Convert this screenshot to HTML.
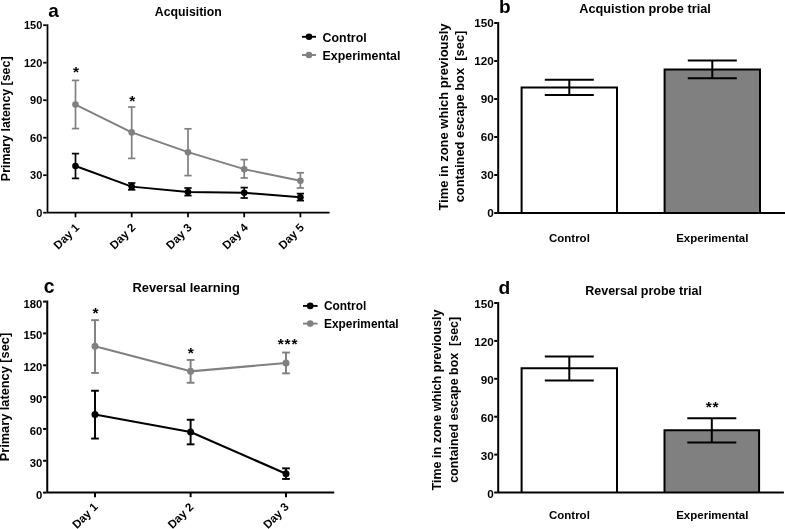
<!DOCTYPE html>
<html lang="en">
<head>
<meta charset="utf-8">
<title>Figure</title>
<style>
html,body{margin:0;padding:0;background:#fff;}
body{width:785px;height:529px;overflow:hidden;}
svg{display:block;}
svg text{font-family:"Liberation Sans", Arial, Helvetica, sans-serif;fill:#000;}
</style>
</head>
<body>
<svg width="785" height="529" viewBox="0 0 785 529">
<rect x="0" y="0" width="785" height="529" fill="#fff"/>
<text x="48.30" y="16.50" font-size="19" font-weight="bold" text-anchor="start">a</text>
<text x="188.30" y="16.30" font-size="12.3" font-weight="bold" text-anchor="middle">Acquisition</text>
<path d="M47.50 24.32V212.70H329.60" fill="none" stroke="#000" stroke-width="1.75" stroke-linejoin="miter"/>
<line x1="43.20" y1="212.70" x2="46.62" y2="212.70" stroke="#000" stroke-width="1.75" stroke-linecap="butt"/>
<text x="42.34" y="216.84" font-size="11" font-weight="bold" text-anchor="end">0</text>
<line x1="43.20" y1="175.20" x2="46.62" y2="175.20" stroke="#000" stroke-width="1.75" stroke-linecap="butt"/>
<text x="42.34" y="179.34" font-size="11" font-weight="bold" text-anchor="end">30</text>
<line x1="43.20" y1="137.70" x2="46.62" y2="137.70" stroke="#000" stroke-width="1.75" stroke-linecap="butt"/>
<text x="42.34" y="141.84" font-size="11" font-weight="bold" text-anchor="end">60</text>
<line x1="43.20" y1="100.20" x2="46.62" y2="100.20" stroke="#000" stroke-width="1.75" stroke-linecap="butt"/>
<text x="42.34" y="104.34" font-size="11" font-weight="bold" text-anchor="end">90</text>
<line x1="43.20" y1="62.70" x2="46.62" y2="62.70" stroke="#000" stroke-width="1.75" stroke-linecap="butt"/>
<text x="42.34" y="66.84" font-size="11" font-weight="bold" text-anchor="end">120</text>
<line x1="43.20" y1="25.20" x2="46.62" y2="25.20" stroke="#000" stroke-width="1.75" stroke-linecap="butt"/>
<text x="42.34" y="29.34" font-size="11" font-weight="bold" text-anchor="end">150</text>
<line x1="75.50" y1="212.70" x2="75.50" y2="217.30" stroke="#000" stroke-width="1.75" stroke-linecap="butt"/>
<text x="80.00" y="228.20" font-size="11.5" font-weight="bold" text-anchor="end" transform="rotate(-45 80.00 228.20)">Day 1</text>
<line x1="131.70" y1="212.70" x2="131.70" y2="217.30" stroke="#000" stroke-width="1.75" stroke-linecap="butt"/>
<text x="136.20" y="228.20" font-size="11.5" font-weight="bold" text-anchor="end" transform="rotate(-45 136.20 228.20)">Day 2</text>
<line x1="188.00" y1="212.70" x2="188.00" y2="217.30" stroke="#000" stroke-width="1.75" stroke-linecap="butt"/>
<text x="192.50" y="228.20" font-size="11.5" font-weight="bold" text-anchor="end" transform="rotate(-45 192.50 228.20)">Day 3</text>
<line x1="244.20" y1="212.70" x2="244.20" y2="217.30" stroke="#000" stroke-width="1.75" stroke-linecap="butt"/>
<text x="248.70" y="228.20" font-size="11.5" font-weight="bold" text-anchor="end" transform="rotate(-45 248.70 228.20)">Day 4</text>
<line x1="300.40" y1="212.70" x2="300.40" y2="217.30" stroke="#000" stroke-width="1.75" stroke-linecap="butt"/>
<text x="304.90" y="228.20" font-size="11.5" font-weight="bold" text-anchor="end" transform="rotate(-45 304.90 228.20)">Day 5</text>
<text x="9.85" y="118.80" font-size="12.4" font-weight="bold" text-anchor="middle" transform="rotate(-90 9.85 118.80)">Primary latency [sec]</text>
<polyline points="75.50,104.60 131.70,132.40 188.00,152.20 244.20,169.20 300.40,180.80" fill="none" stroke="#808080" stroke-width="1.9" stroke-linejoin="round"/>
<line x1="75.50" y1="80.40" x2="75.50" y2="128.60" stroke="#808080" stroke-width="1.7" stroke-linecap="butt"/>
<line x1="71.85" y1="80.40" x2="79.15" y2="80.40" stroke="#808080" stroke-width="1.7" stroke-linecap="butt"/>
<line x1="71.85" y1="128.60" x2="79.15" y2="128.60" stroke="#808080" stroke-width="1.7" stroke-linecap="butt"/>
<circle cx="75.50" cy="104.60" r="3.3" fill="#808080"/>
<line x1="131.70" y1="107.00" x2="131.70" y2="158.40" stroke="#808080" stroke-width="1.7" stroke-linecap="butt"/>
<line x1="128.05" y1="107.00" x2="135.35" y2="107.00" stroke="#808080" stroke-width="1.7" stroke-linecap="butt"/>
<line x1="128.05" y1="158.40" x2="135.35" y2="158.40" stroke="#808080" stroke-width="1.7" stroke-linecap="butt"/>
<circle cx="131.70" cy="132.40" r="3.3" fill="#808080"/>
<line x1="188.00" y1="128.80" x2="188.00" y2="175.60" stroke="#808080" stroke-width="1.7" stroke-linecap="butt"/>
<line x1="184.35" y1="128.80" x2="191.65" y2="128.80" stroke="#808080" stroke-width="1.7" stroke-linecap="butt"/>
<line x1="184.35" y1="175.60" x2="191.65" y2="175.60" stroke="#808080" stroke-width="1.7" stroke-linecap="butt"/>
<circle cx="188.00" cy="152.20" r="3.3" fill="#808080"/>
<line x1="244.20" y1="159.60" x2="244.20" y2="178.00" stroke="#808080" stroke-width="1.7" stroke-linecap="butt"/>
<line x1="240.55" y1="159.60" x2="247.85" y2="159.60" stroke="#808080" stroke-width="1.7" stroke-linecap="butt"/>
<line x1="240.55" y1="178.00" x2="247.85" y2="178.00" stroke="#808080" stroke-width="1.7" stroke-linecap="butt"/>
<circle cx="244.20" cy="169.20" r="3.3" fill="#808080"/>
<line x1="300.40" y1="172.80" x2="300.40" y2="188.00" stroke="#808080" stroke-width="1.7" stroke-linecap="butt"/>
<line x1="296.75" y1="172.80" x2="304.05" y2="172.80" stroke="#808080" stroke-width="1.7" stroke-linecap="butt"/>
<line x1="296.75" y1="188.00" x2="304.05" y2="188.00" stroke="#808080" stroke-width="1.7" stroke-linecap="butt"/>
<circle cx="300.40" cy="180.80" r="3.3" fill="#808080"/>
<polyline points="75.50,166.00 131.70,186.60 188.00,192.00 244.20,192.80 300.40,197.20" fill="none" stroke="#000" stroke-width="1.9" stroke-linejoin="round"/>
<line x1="75.50" y1="153.60" x2="75.50" y2="178.40" stroke="#000" stroke-width="1.7" stroke-linecap="butt"/>
<line x1="71.85" y1="153.60" x2="79.15" y2="153.60" stroke="#000" stroke-width="1.7" stroke-linecap="butt"/>
<line x1="71.85" y1="178.40" x2="79.15" y2="178.40" stroke="#000" stroke-width="1.7" stroke-linecap="butt"/>
<circle cx="75.50" cy="166.00" r="3.3" fill="#000"/>
<line x1="131.70" y1="183.00" x2="131.70" y2="189.80" stroke="#000" stroke-width="1.7" stroke-linecap="butt"/>
<line x1="128.05" y1="183.00" x2="135.35" y2="183.00" stroke="#000" stroke-width="1.7" stroke-linecap="butt"/>
<line x1="128.05" y1="189.80" x2="135.35" y2="189.80" stroke="#000" stroke-width="1.7" stroke-linecap="butt"/>
<circle cx="131.70" cy="186.60" r="3.3" fill="#000"/>
<line x1="188.00" y1="188.00" x2="188.00" y2="195.60" stroke="#000" stroke-width="1.7" stroke-linecap="butt"/>
<line x1="184.35" y1="188.00" x2="191.65" y2="188.00" stroke="#000" stroke-width="1.7" stroke-linecap="butt"/>
<line x1="184.35" y1="195.60" x2="191.65" y2="195.60" stroke="#000" stroke-width="1.7" stroke-linecap="butt"/>
<circle cx="188.00" cy="192.00" r="3.3" fill="#000"/>
<line x1="244.20" y1="187.60" x2="244.20" y2="198.00" stroke="#000" stroke-width="1.7" stroke-linecap="butt"/>
<line x1="240.55" y1="187.60" x2="247.85" y2="187.60" stroke="#000" stroke-width="1.7" stroke-linecap="butt"/>
<line x1="240.55" y1="198.00" x2="247.85" y2="198.00" stroke="#000" stroke-width="1.7" stroke-linecap="butt"/>
<circle cx="244.20" cy="192.80" r="3.3" fill="#000"/>
<line x1="300.40" y1="193.60" x2="300.40" y2="200.60" stroke="#000" stroke-width="1.7" stroke-linecap="butt"/>
<line x1="296.75" y1="193.60" x2="304.05" y2="193.60" stroke="#000" stroke-width="1.7" stroke-linecap="butt"/>
<line x1="296.75" y1="200.60" x2="304.05" y2="200.60" stroke="#000" stroke-width="1.7" stroke-linecap="butt"/>
<circle cx="300.40" cy="197.20" r="3.3" fill="#000"/>
<text x="72.99" y="77.35" font-size="15.5" font-weight="bold" letter-spacing="0.92">*</text>
<text x="129.19" y="105.95" font-size="15.5" font-weight="bold" letter-spacing="0.92">*</text>
<line x1="302.00" y1="36.80" x2="316.00" y2="36.80" stroke="#000" stroke-width="1.9" stroke-linecap="butt"/>
<circle cx="309.00" cy="36.80" r="3.3" fill="#000"/>
<text x="322.60" y="41.74" font-size="12.4" font-weight="bold" text-anchor="start">Control</text>
<line x1="302.00" y1="55.00" x2="316.00" y2="55.00" stroke="#808080" stroke-width="1.9" stroke-linecap="butt"/>
<circle cx="309.00" cy="55.00" r="3.3" fill="#808080"/>
<text x="322.60" y="59.84" font-size="12.4" font-weight="bold" text-anchor="start">Experimental</text>
<text x="43.80" y="293.05" font-size="19.3" font-weight="bold" text-anchor="start">c</text>
<text x="186.15" y="291.50" font-size="12.88" font-weight="bold" text-anchor="middle">Reversal learning</text>
<path d="M47.25 300.60V492.60H334.20" fill="none" stroke="#000" stroke-width="2.0" stroke-linejoin="miter"/>
<line x1="43.10" y1="492.60" x2="46.25" y2="492.60" stroke="#000" stroke-width="2.0" stroke-linecap="butt"/>
<text x="42.25" y="498.50" font-size="11.3" font-weight="bold" text-anchor="end">0</text>
<line x1="43.10" y1="460.77" x2="46.25" y2="460.77" stroke="#000" stroke-width="2.0" stroke-linecap="butt"/>
<text x="42.25" y="466.66" font-size="11.3" font-weight="bold" text-anchor="end">30</text>
<line x1="43.10" y1="428.93" x2="46.25" y2="428.93" stroke="#000" stroke-width="2.0" stroke-linecap="butt"/>
<text x="42.25" y="434.83" font-size="11.3" font-weight="bold" text-anchor="end">60</text>
<line x1="43.10" y1="397.10" x2="46.25" y2="397.10" stroke="#000" stroke-width="2.0" stroke-linecap="butt"/>
<text x="42.25" y="403.00" font-size="11.3" font-weight="bold" text-anchor="end">90</text>
<line x1="43.10" y1="365.27" x2="46.25" y2="365.27" stroke="#000" stroke-width="2.0" stroke-linecap="butt"/>
<text x="42.25" y="371.16" font-size="11.3" font-weight="bold" text-anchor="end">120</text>
<line x1="43.10" y1="333.43" x2="46.25" y2="333.43" stroke="#000" stroke-width="2.0" stroke-linecap="butt"/>
<text x="42.25" y="339.33" font-size="11.3" font-weight="bold" text-anchor="end">150</text>
<line x1="43.10" y1="301.60" x2="46.25" y2="301.60" stroke="#000" stroke-width="2.0" stroke-linecap="butt"/>
<text x="42.25" y="307.50" font-size="11.3" font-weight="bold" text-anchor="end">180</text>
<line x1="95.00" y1="492.60" x2="95.00" y2="497.20" stroke="#000" stroke-width="2.0" stroke-linecap="butt"/>
<text x="98.60" y="507.60" font-size="11.5" font-weight="bold" text-anchor="end" transform="rotate(-45 98.60 507.60)">Day 1</text>
<line x1="190.60" y1="492.60" x2="190.60" y2="497.20" stroke="#000" stroke-width="2.0" stroke-linecap="butt"/>
<text x="194.20" y="507.60" font-size="11.5" font-weight="bold" text-anchor="end" transform="rotate(-45 194.20 507.60)">Day 2</text>
<line x1="286.00" y1="492.60" x2="286.00" y2="497.20" stroke="#000" stroke-width="2.0" stroke-linecap="butt"/>
<text x="289.60" y="507.60" font-size="11.5" font-weight="bold" text-anchor="end" transform="rotate(-45 289.60 507.60)">Day 3</text>
<text x="9.30" y="397.10" font-size="12.77" font-weight="bold" text-anchor="middle" transform="rotate(-90 9.30 397.10)">Primary latency [sec]</text>
<polyline points="95.00,346.35 190.60,371.35 286.00,362.95" fill="none" stroke="#808080" stroke-width="2.1" stroke-linejoin="round"/>
<line x1="95.00" y1="320.15" x2="95.00" y2="372.95" stroke="#808080" stroke-width="1.95" stroke-linecap="butt"/>
<line x1="91.15" y1="320.15" x2="98.85" y2="320.15" stroke="#808080" stroke-width="1.95" stroke-linecap="butt"/>
<line x1="91.15" y1="372.95" x2="98.85" y2="372.95" stroke="#808080" stroke-width="1.95" stroke-linecap="butt"/>
<circle cx="95.00" cy="346.35" r="3.5" fill="#808080"/>
<line x1="190.60" y1="359.95" x2="190.60" y2="382.75" stroke="#808080" stroke-width="1.95" stroke-linecap="butt"/>
<line x1="186.75" y1="359.95" x2="194.45" y2="359.95" stroke="#808080" stroke-width="1.95" stroke-linecap="butt"/>
<line x1="186.75" y1="382.75" x2="194.45" y2="382.75" stroke="#808080" stroke-width="1.95" stroke-linecap="butt"/>
<circle cx="190.60" cy="371.35" r="3.5" fill="#808080"/>
<line x1="286.00" y1="352.55" x2="286.00" y2="373.35" stroke="#808080" stroke-width="1.95" stroke-linecap="butt"/>
<line x1="282.15" y1="352.55" x2="289.85" y2="352.55" stroke="#808080" stroke-width="1.95" stroke-linecap="butt"/>
<line x1="282.15" y1="373.35" x2="289.85" y2="373.35" stroke="#808080" stroke-width="1.95" stroke-linecap="butt"/>
<circle cx="286.00" cy="362.95" r="3.5" fill="#808080"/>
<polyline points="95.00,414.55 190.60,431.95 286.00,473.75" fill="none" stroke="#000" stroke-width="2.1" stroke-linejoin="round"/>
<line x1="95.00" y1="390.75" x2="95.00" y2="438.55" stroke="#000" stroke-width="1.95" stroke-linecap="butt"/>
<line x1="91.15" y1="390.75" x2="98.85" y2="390.75" stroke="#000" stroke-width="1.95" stroke-linecap="butt"/>
<line x1="91.15" y1="438.55" x2="98.85" y2="438.55" stroke="#000" stroke-width="1.95" stroke-linecap="butt"/>
<circle cx="95.00" cy="414.55" r="3.5" fill="#000"/>
<line x1="190.60" y1="419.75" x2="190.60" y2="444.35" stroke="#000" stroke-width="1.95" stroke-linecap="butt"/>
<line x1="186.75" y1="419.75" x2="194.45" y2="419.75" stroke="#000" stroke-width="1.95" stroke-linecap="butt"/>
<line x1="186.75" y1="444.35" x2="194.45" y2="444.35" stroke="#000" stroke-width="1.95" stroke-linecap="butt"/>
<circle cx="190.60" cy="431.95" r="3.5" fill="#000"/>
<line x1="286.00" y1="468.35" x2="286.00" y2="478.95" stroke="#000" stroke-width="1.95" stroke-linecap="butt"/>
<line x1="282.15" y1="468.35" x2="289.85" y2="468.35" stroke="#000" stroke-width="1.95" stroke-linecap="butt"/>
<line x1="282.15" y1="478.95" x2="289.85" y2="478.95" stroke="#000" stroke-width="1.95" stroke-linecap="butt"/>
<circle cx="286.00" cy="473.75" r="3.5" fill="#000"/>
<text x="92.49" y="318.05" font-size="15.5" font-weight="bold" letter-spacing="0.92">*</text>
<text x="187.79" y="358.05" font-size="15.5" font-weight="bold" letter-spacing="0.92">*</text>
<text x="277.79" y="348.95" font-size="15.5" font-weight="bold" letter-spacing="0.77">***</text>
<line x1="303.00" y1="305.90" x2="317.60" y2="305.90" stroke="#000" stroke-width="1.9" stroke-linecap="butt"/>
<circle cx="310.20" cy="305.90" r="3.3" fill="#000"/>
<text x="324.00" y="310.46" font-size="11.9" font-weight="bold" text-anchor="start">Control</text>
<line x1="303.00" y1="323.60" x2="317.60" y2="323.60" stroke="#808080" stroke-width="1.9" stroke-linecap="butt"/>
<circle cx="310.20" cy="323.60" r="3.3" fill="#808080"/>
<text x="324.00" y="327.76" font-size="11.9" font-weight="bold" text-anchor="start">Experimental</text>
<text x="499.10" y="13.45" font-size="19" font-weight="bold" text-anchor="start">b</text>
<text x="645.00" y="13.35" font-size="12.74" font-weight="bold" text-anchor="middle">Acquistion probe trial</text>
<path d="M521.60 213.00V87.50H617.00V213.00" fill="#fff" stroke="#000" stroke-width="2.0" stroke-linejoin="miter"/>
<line x1="569.30" y1="79.70" x2="569.30" y2="95.10" stroke="#000" stroke-width="2.0" stroke-linecap="butt"/>
<line x1="544.80" y1="79.70" x2="593.80" y2="79.70" stroke="#000" stroke-width="2.0" stroke-linecap="butt"/>
<line x1="544.80" y1="95.10" x2="593.80" y2="95.10" stroke="#000" stroke-width="2.0" stroke-linecap="butt"/>
<path d="M664.60 213.00V69.40H760.00V213.00" fill="#808080" stroke="#000" stroke-width="2.0" stroke-linejoin="miter"/>
<line x1="712.30" y1="60.60" x2="712.30" y2="78.20" stroke="#000" stroke-width="2.0" stroke-linecap="butt"/>
<line x1="687.80" y1="60.60" x2="736.80" y2="60.60" stroke="#000" stroke-width="2.0" stroke-linecap="butt"/>
<line x1="687.80" y1="78.20" x2="736.80" y2="78.20" stroke="#000" stroke-width="2.0" stroke-linecap="butt"/>
<path d="M498.20 22.00V213.00H786.00" fill="none" stroke="#000" stroke-width="2.0" stroke-linejoin="miter"/>
<line x1="494.20" y1="213.00" x2="497.20" y2="213.00" stroke="#000" stroke-width="2.0" stroke-linecap="butt"/>
<text x="493.67" y="217.19" font-size="11.7" font-weight="bold" text-anchor="end">0</text>
<line x1="494.20" y1="175.00" x2="497.20" y2="175.00" stroke="#000" stroke-width="2.0" stroke-linecap="butt"/>
<text x="493.67" y="179.19" font-size="11.7" font-weight="bold" text-anchor="end">30</text>
<line x1="494.20" y1="137.00" x2="497.20" y2="137.00" stroke="#000" stroke-width="2.0" stroke-linecap="butt"/>
<text x="493.67" y="141.19" font-size="11.7" font-weight="bold" text-anchor="end">60</text>
<line x1="494.20" y1="99.00" x2="497.20" y2="99.00" stroke="#000" stroke-width="2.0" stroke-linecap="butt"/>
<text x="493.67" y="103.19" font-size="11.7" font-weight="bold" text-anchor="end">90</text>
<line x1="494.20" y1="61.00" x2="497.20" y2="61.00" stroke="#000" stroke-width="2.0" stroke-linecap="butt"/>
<text x="493.67" y="65.19" font-size="11.7" font-weight="bold" text-anchor="end">120</text>
<line x1="494.20" y1="23.00" x2="497.20" y2="23.00" stroke="#000" stroke-width="2.0" stroke-linecap="butt"/>
<text x="493.67" y="27.19" font-size="11.7" font-weight="bold" text-anchor="end">150</text>
<text x="569.40" y="241.70" font-size="11.5" font-weight="bold" text-anchor="middle">Control</text>
<text x="712.30" y="241.70" font-size="11.5" font-weight="bold" text-anchor="middle">Experimental</text>
<text x="447.80" y="117.00" font-size="12.97" font-weight="bold" text-anchor="middle" transform="rotate(-90 447.80 117.00)">Time in zone which previously</text>
<text x="464.40" y="116.50" font-size="12.88" font-weight="bold" text-anchor="middle" transform="rotate(-90 464.40 116.50)" xml:space="preserve" style="white-space:pre">contained escape box  [sec]</text>
<text x="498.50" y="293.60" font-size="19.2" font-weight="bold" text-anchor="start">d</text>
<text x="643.60" y="294.60" font-size="12.5" font-weight="bold" text-anchor="middle">Reversal probe trial</text>
<path d="M521.60 492.50V368.30H617.00V492.50" fill="#fff" stroke="#000" stroke-width="2.0" stroke-linejoin="miter"/>
<line x1="569.30" y1="356.40" x2="569.30" y2="380.60" stroke="#000" stroke-width="2.0" stroke-linecap="butt"/>
<line x1="544.80" y1="356.40" x2="593.80" y2="356.40" stroke="#000" stroke-width="2.0" stroke-linecap="butt"/>
<line x1="544.80" y1="380.60" x2="593.80" y2="380.60" stroke="#000" stroke-width="2.0" stroke-linecap="butt"/>
<path d="M664.50 492.50V430.30H759.10V492.50" fill="#808080" stroke="#000" stroke-width="2.0" stroke-linejoin="miter"/>
<line x1="711.80" y1="418.20" x2="711.80" y2="442.40" stroke="#000" stroke-width="2.0" stroke-linecap="butt"/>
<line x1="687.30" y1="418.20" x2="736.30" y2="418.20" stroke="#000" stroke-width="2.0" stroke-linecap="butt"/>
<line x1="687.30" y1="442.40" x2="736.30" y2="442.40" stroke="#000" stroke-width="2.0" stroke-linecap="butt"/>
<path d="M498.20 302.00V492.50H783.90" fill="none" stroke="#000" stroke-width="2.0" stroke-linejoin="miter"/>
<line x1="494.20" y1="492.50" x2="497.20" y2="492.50" stroke="#000" stroke-width="2.0" stroke-linecap="butt"/>
<text x="493.67" y="497.69" font-size="11.7" font-weight="bold" text-anchor="end">0</text>
<line x1="494.20" y1="454.60" x2="497.20" y2="454.60" stroke="#000" stroke-width="2.0" stroke-linecap="butt"/>
<text x="493.67" y="459.79" font-size="11.7" font-weight="bold" text-anchor="end">30</text>
<line x1="494.20" y1="416.70" x2="497.20" y2="416.70" stroke="#000" stroke-width="2.0" stroke-linecap="butt"/>
<text x="493.67" y="421.89" font-size="11.7" font-weight="bold" text-anchor="end">60</text>
<line x1="494.20" y1="378.80" x2="497.20" y2="378.80" stroke="#000" stroke-width="2.0" stroke-linecap="butt"/>
<text x="493.67" y="383.99" font-size="11.7" font-weight="bold" text-anchor="end">90</text>
<line x1="494.20" y1="340.90" x2="497.20" y2="340.90" stroke="#000" stroke-width="2.0" stroke-linecap="butt"/>
<text x="493.67" y="346.09" font-size="11.7" font-weight="bold" text-anchor="end">120</text>
<line x1="494.20" y1="303.00" x2="497.20" y2="303.00" stroke="#000" stroke-width="2.0" stroke-linecap="butt"/>
<text x="493.67" y="308.19" font-size="11.7" font-weight="bold" text-anchor="end">150</text>
<text x="569.40" y="518.60" font-size="11.5" font-weight="bold" text-anchor="middle">Control</text>
<text x="712.30" y="518.60" font-size="11.5" font-weight="bold" text-anchor="middle">Experimental</text>
<text x="440.50" y="400.00" font-size="12.55" font-weight="bold" text-anchor="middle" transform="rotate(-90 440.50 400.00)">Time in zone which previously</text>
<text x="458.40" y="399.80" font-size="12.45" font-weight="bold" text-anchor="middle" transform="rotate(-90 458.40 399.80)" xml:space="preserve" style="white-space:pre">contained escape box  [sec]</text>
<text x="705.64" y="411.95" font-size="15.5" font-weight="bold" letter-spacing="0.87">**</text>
</svg>
</body>
</html>
